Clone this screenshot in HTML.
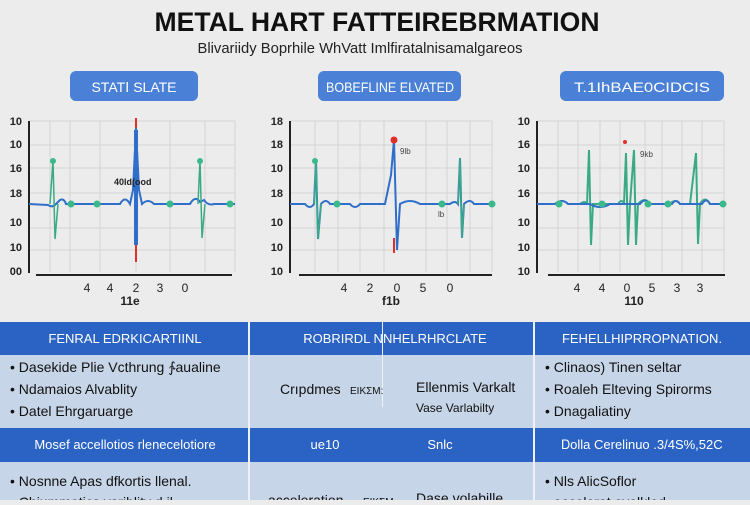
<!DOCTYPE html>
<html><head><meta charset="utf-8"><style>
body{margin:0;width:750px;height:500px;overflow:hidden;background:#ececec;font-family:"Liberation Sans",sans-serif}
</style></head><body>
<svg width="750" height="500" xmlns="http://www.w3.org/2000/svg" font-family="Liberation Sans, sans-serif">
<rect width="750" height="500" fill="#ececec"/>
<text x="377" y="31" text-anchor="middle" font-size="27" font-weight="bold" fill="#111" textLength="445" lengthAdjust="spacingAndGlyphs">METAL HART FATTEIREBRMATION</text>
<text x="360" y="53" text-anchor="middle" font-size="15" fill="#222" textLength="325" lengthAdjust="spacingAndGlyphs">Blivariidy Boprhile WhVatt Imlfiratalnisamalgareos</text>
<rect x="70" y="71" width="128" height="30" rx="6" fill="#4a80d6"/>
<text x="134" y="92" text-anchor="middle" font-size="14" fill="#fff">STATⅠ SLATE</text>
<rect x="318" y="71" width="143" height="30" rx="6" fill="#4a80d6"/>
<text x="390" y="92" text-anchor="middle" font-size="14" fill="#fff" textLength="128" lengthAdjust="spacingAndGlyphs">BOBEFLINE ELVATED</text>
<rect x="560" y="71" width="164" height="30" rx="6" fill="#4a80d6"/>
<text x="642" y="92" text-anchor="middle" font-size="14" fill="#fff" textLength="136" lengthAdjust="spacingAndGlyphs">T.1IhBAE0CIDCIS</text>

<g stroke="#d4d4d4" stroke-width="1" fill="none">
<path d="M29 121H235M29 145H235M29 168H235M29 193H235M29 228H235M29 250H235M50 121V272M70 121V272M100 121V272M136 121V272M170 121V272M205 121V272M235 121V272"/>
<path d="M290 121H492M290 145H492M290 168H492M290 193H492M290 228H492M290 250H492M315 121V272M338 121V272M360 121V272M384 121V272M426 121V272M447 121V272M470 121V272M492 121V272"/>
<path d="M537 121H724M537 145H724M537 168H724M537 193H724M537 228H724M537 250H724M558 121V272M578 121V272M600 121V272M620 121V272M645 121V272M662 121V272M682 121V272M702 121V272M724 121V272"/>
</g>
<g stroke="#222" stroke-width="2" fill="none">
<path d="M29 121V273M36 275H232"/>
<path d="M290 121V273M299 275H492"/>
<path d="M537 121V273M548 275H725"/>
</g>
<g font-size="11" font-weight="bold" fill="#222" text-anchor="end">
<text x="22" y="125">10</text><text x="22" y="148">10</text><text x="22" y="172">16</text><text x="22" y="197">18</text><text x="22" y="226">10</text><text x="22" y="251">10</text><text x="22" y="275">00</text>
<text x="283" y="125">18</text><text x="283" y="148">18</text><text x="283" y="172">10</text><text x="283" y="197">18</text><text x="283" y="226">10</text><text x="283" y="251">10</text><text x="283" y="275">10</text>
<text x="530" y="125">10</text><text x="530" y="148">16</text><text x="530" y="172">10</text><text x="530" y="197">16</text><text x="530" y="226">10</text><text x="530" y="251">10</text><text x="530" y="275">10</text>
</g>
<g font-size="12" fill="#222" text-anchor="middle">
<text x="87" y="292">4</text><text x="110" y="292">4</text><text x="136" y="292">2</text><text x="160" y="292">3</text><text x="185" y="292">0</text><text x="130" y="305" font-weight="bold">11e</text>
<text x="344" y="292">4</text><text x="370" y="292">2</text><text x="397" y="292">0</text><text x="423" y="292">5</text><text x="450" y="292">0</text><text x="391" y="305" font-weight="bold">f1b</text>
<text x="577" y="292">4</text><text x="602" y="292">4</text><text x="627" y="292">0</text><text x="652" y="292">5</text><text x="677" y="292">3</text><text x="700" y="292">3</text><text x="634" y="305" font-weight="bold">110</text>
</g>
<g fill="none" stroke-width="2">
<path d="M29 204L48 205Q52 208 56 204L60 200Q64 198 66 204H120Q125 195 130 204L133 190L136 128L139 190L142 204Q148 198 154 204H190Q195 195 200 202L204 200Q208 206 214 204H235" stroke="#2f6fc9"/>
<path d="M50 204L53 160L55 239L58 204M198 204L200 160L202 238L205 204" stroke="#3aaa84" stroke-width="1.5"/>
<path d="M136 130L136 245" stroke="#2f6fc9" stroke-width="4"/>
<path d="M136 118V128M136 245V262" stroke="#e0302a" stroke-width="2"/>
<path d="M290 204H305Q310 210 314 204L316 160L318 239L321 204Q326 198 330 204H350Q355 210 360 204H385L391 175L394 140L397 250L400 204Q410 198 420 204H450Q455 200 458 204L460 158L462 238L464 204Q470 198 474 204H492" stroke="#2f6fc9"/>
<path d="M314 204L316 160L318 239L321 204M458 204L460 158L462 238L464 204" stroke="#3aaa84" stroke-width="1.5"/>
<path d="M394 238V253" stroke="#e0302a" stroke-width="2"/>
<path d="M537 204H555Q562 198 568 204H580Q585 200 587 204L589 150L591 245L593 204H618Q622 198 624 204L626 153L628 245L630 204L634 150L636 245L638 204Q645 196 650 204H670Q675 198 680 204H690L696 153L698 244L700 204Q705 195 710 204H724" stroke="#3aaa84"/>
<path d="M537 204H555Q562 198 568 204H590Q600 210 610 204H640Q645 197 650 204H672Q676 198 680 204H702Q706 197 710 204H724" stroke="#2f6fc9"/>
</g>
<g fill="#3aba8a">
<circle cx="71" cy="204" r="3.5"/><circle cx="97" cy="204" r="3.5"/><circle cx="170" cy="204" r="3.5"/><circle cx="230" cy="204" r="3.5"/>
<circle cx="53" cy="161" r="3"/><circle cx="200" cy="161" r="3"/>
<circle cx="337" cy="204" r="3.5"/><circle cx="442" cy="204" r="3.5"/><circle cx="492" cy="204" r="3.5"/><circle cx="315" cy="161" r="3"/>
<circle cx="559" cy="204" r="3.5"/><circle cx="602" cy="204" r="3.5"/><circle cx="648" cy="204" r="3.5"/><circle cx="668" cy="204" r="3.5"/><circle cx="723" cy="204" r="3.5"/>
</g>
<circle cx="394" cy="140" r="3.5" fill="#e0302a"/><circle cx="625" cy="142" r="2" fill="#e0302a"/>
<text x="114" y="185" font-size="9" font-weight="bold" fill="#222">40ld(ood</text>
<text x="400" y="154" font-size="8" fill="#444">9lb</text><text x="438" y="217" font-size="8" fill="#444">lb</text><text x="640" y="157" font-size="8" fill="#444">9kb</text>

<rect x="0" y="322" width="750" height="178" fill="#c7d5e8"/>
<g fill="#2b63c4">
<rect x="0" y="322" width="248" height="33"/><rect x="250" y="322" width="283" height="33"/><rect x="535" y="322" width="215" height="33"/>
<rect x="0" y="428" width="248" height="34"/><rect x="250" y="428" width="283" height="34"/><rect x="535" y="428" width="215" height="34"/>
</g>
<g fill="#eef1f7"><rect x="248" y="322" width="2" height="178"/><rect x="533" y="322" width="2" height="178"/><rect x="382" y="322" width="1" height="85"/></g>
<g font-size="13" fill="#fff" text-anchor="middle">
<text x="125" y="343">FENRAL EDRKICARTIINL</text><text x="395" y="343">ROBRIRDL NNHELRHRCLATE</text><text x="642" y="343">FEHELLHIPRROPNATION.</text>
<text x="125" y="449">Mosef accellotios rlenecelotiore</text><text x="325" y="449">ue10</text><text x="440" y="449">Snlc</text><text x="642" y="449">Ꭰolla Cerelinuo .3/4S%,52C</text>
</g>
<g font-size="14" fill="#111">
<text x="10" y="372">• Dasekide Plie Vcthrung ∱aualine</text>
<text x="10" y="394">• Ndamaios Alvablity</text>
<text x="10" y="416">• Datel  Ehrgaruarge</text>
<text x="10" y="486">• Nosnne Apas dfkortis llenal.</text>
<text x="10" y="507">• Chiummetics variblity d.il</text>
<text x="280" y="394">Crıpdmes</text><text x="350" y="394" font-size="10">ΕΙΚΣΜ:</text>
<text x="416" y="392">Ellenmis Varkalt</text><text x="416" y="412" font-size="12">Vase Varlabilty</text>
<text x="268" y="505">acceleration</text><text x="363" y="505" font-size="10">ΕΙΚΣΜ</text><text x="416" y="503">Dase volabille</text>
<text x="545" y="372">• Clinaos) Tinen seltar</text>
<text x="545" y="394">• Roaleh Elteving Spirorms</text>
<text x="545" y="416">• Dnagaliatiny</text>
<text x="545" y="486">• Nls  AlicSoflor</text>
<text x="545" y="507">• accelerat ovalkled</text>
</g>
</svg>
</body></html>
